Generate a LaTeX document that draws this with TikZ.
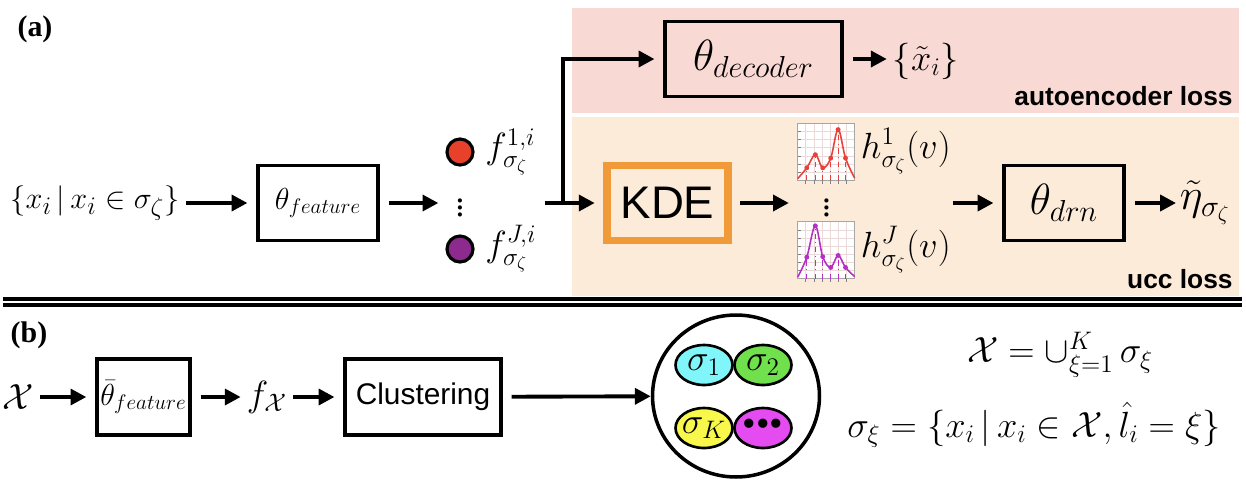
\documentclass[tikz,border=0pt]{standalone}
\usepackage{fontspec}
\setmainfont{Liberation Serif}
\setsansfont{Liberation Sans}
\usepackage{amsmath,amssymb}
\usetikzlibrary{arrows.meta,positioning,shapes.geometric}
\definecolor{pinkband}{HTML}{F9D9D4}
\definecolor{peachband}{HTML}{FCEBD9}
\definecolor{kdeorange}{HTML}{F09A3A}
\definecolor{fred}{HTML}{E8412B}
\definecolor{fpurple}{HTML}{8C2A8E}
\definecolor{kdered}{HTML}{E8413A}
\definecolor{kdepurple}{HTML}{B52FC4}
\definecolor{gridpink}{HTML}{EBD8D8}
\definecolor{cone}{HTML}{80F6FA}
\definecolor{ctwo}{HTML}{70E04C}
\definecolor{cK}{HTML}{F8F84C}
\definecolor{crest}{HTML}{E44CF2}

% small kde plot drawn inside a named node
\newcommand{\kdeicon}[4]{%
 \begin{scope}[shift={(#1.south west)},x=1.14cm,y=1.14cm]
  \fill[white] (0,0) rectangle (1,1);
  \foreach \g in {1,...,6}{\draw[gridpink,line width=.4pt] (\g/7,0)--(\g/7,1) (0,\g/7)--(1,\g/7);}
  \draw[gray!70,line width=.5pt] (0,0) rectangle (1,1);
  \foreach \g in {1,...,6}{\draw[gray,line width=.4pt] (\g/7,0)--(\g/7,-.06) (0,\g/7)--(.05,\g/7);}
  \draw[#2,line width=.9pt] plot[smooth,tension=.6] coordinates {#3};
  \foreach \px/\py in {#4}{\draw[#2,line width=.6pt,dash dot] (\px,0)--(\px,\py); \fill[#2] (\px,\py) circle (1.4pt);}
 \end{scope}}

\begin{document}
\begin{tikzpicture}[x=0.02cm,y=-0.02cm,font=\fontsize{20}{24}\selectfont,
 box/.style={draw,line width=2pt,minimum width=2.4cm,minimum height=1.5cm,outer sep=6pt},
 arr/.style={line width=2.2pt,-{Triangle[length=9pt,width=9pt]}},
 lossname/.style={font=\sffamily\bfseries\fontsize{15}{18}\selectfont,anchor=south east,inner sep=0pt},
 fdot/.style={circle,draw,line width=1.8pt,minimum size=.52cm,inner sep=0pt},
 plotbox/.style={minimum size=1.14cm,inner sep=0pt},
 cluster/.style={ellipse,draw,line width=1.5pt,minimum width=1.14cm,minimum height=.8cm,inner sep=0pt},
 big/.style={font=\fontsize{23}{27}\selectfont},
 small/.style={font=\fontsize{18}{21}\selectfont}]
\useasboundingbox (0,0) rectangle (1246,481);

% (a)
\fill[pinkband] (572,8) rectangle (1239,113);
\fill[peachband] (572,117) rectangle (1239,296);
\node[font=\bfseries\fontsize{17}{20}\selectfont] (lbla) at (35,29) {(a)};
\node[font=\fontsize{19}{22}\selectfont] (src) at (95,203) {$\{x_i\,|\,x_i\in\sigma_\zeta\}$};
\node[box,small] (feat) at (318,203) {$\theta_{feature}$};
\node[inner sep=0pt] (fdots) at (460,203) {$\vdots$};
\node[fdot,fill=fred] (dotone) at (460,152) {};
\node[fdot,fill=fpurple] (dotJ) at (460,249) {};
\node[right=5pt of dotone,inner sep=1pt] (fone) {$f^{1,i}_{\sigma_\zeta}$};
\node[right=5pt of dotJ,inner sep=1pt] (fJ) {$f^{J,i}_{\sigma_\zeta}$};
\coordinate (split) at (563,203);
\node[box,draw=kdeorange,line width=4.5pt,minimum width=2.42cm,outer sep=7pt,font=\sffamily\fontsize{26}{30}\selectfont] (kde) at (667.5,203) {KDE};
\node[box,big,minimum width=3.54cm] (dec) at (753.5,59) {$\theta_{decoder}$};
\node (xrec) at (926,61) {$\{\tilde{x}_i\}$};
\node[plotbox] (plotone) at (826.5,151.5) {};
\node[plotbox] (plotJ) at (826.5,250) {};
\kdeicon{plotone}{kdered}{(0,.03) (.16,.22) (.31,.45) (.44,.22) (.58,.39) (.71,.89) (.84,.39) (1,.04)}{.16/.22,.31/.45,.44/.22,.58/.39,.71/.89,.84/.39}
\kdeicon{plotJ}{kdepurple}{(0,.03) (.16,.38) (.31,.93) (.44,.39) (.58,.2) (.71,.41) (.84,.2) (1,.04)}{.16/.38,.31/.93,.44/.39,.58/.2,.71/.41,.84/.2}
\node[inner sep=0pt] (hdots) at (826.5,203) {$\vdots$};
\node[right=2pt of plotone,inner sep=1pt] (hone) {$h^{1}_{\sigma_\zeta}(v)$};
\node[right=2pt of plotJ,inner sep=1pt] (hJ) {$h^{J}_{\sigma_\zeta}(v)$};
\node[box,big] (drn) at (1064,203) {$\theta_{drn}$};
\node[big,anchor=west,inner sep=2pt] (eta) at (1176,203) {$\tilde{\eta}_{\sigma_\zeta}$};
\node[lossname] (aeloss) at (1233,106) {autoencoder loss};
\node[lossname] (uccloss) at (1233,289) {ucc loss};
\draw[arr] (src) -- (feat);
\draw[arr,shorten >=4pt] (feat) -- (feat -| dotone.west);
\draw[arr,shorten <=4pt] (fone.east |- kde) -- (kde);
\draw[arr] (split) |- (dec);
\draw[arr] (dec) -- (dec -| xrec.west);
\draw[arr,shorten >=5pt] (kde) -- (kde -| plotone.west);
\draw[arr] (hone.east |- drn) -- (drn);
\draw[arr] (drn) -- (drn -| eta.west);

% (b)
\draw[line width=2pt] (3,299) -- (1242,299) (3,305) -- (1242,305);
\node[font=\bfseries\fontsize{17}{20}\selectfont] (lblb) at (29,335) {(b)};
\node (X) at (18,397) {$\mathcal{X}$};
\node[box,small,minimum width=1.86cm,minimum height=1.52cm,inner sep=2pt] (featb) at (143.5,397) {$\bar{\theta}_{feature}$};
\node (fX) at (267,397) {$f_{\mathcal{X}}$};
\node[box,minimum width=3.12cm,minimum height=1.52cm,font=\sffamily\fontsize{17}{20}\selectfont] (clus) at (423,397) {Clustering};
\node[ellipse,draw,line width=2pt,minimum width=3.34cm,minimum height=3.24cm] (groups) at (736,396) {};
\node[cluster,fill=cone] (cone) at (704,365) {};
\node[cluster,fill=ctwo] (ctwo) at (763,365) {};
\node[cluster,fill=cK] (cK) at (704,428) {};
\node[cluster,fill=crest] (crest) at (763,428) {};
\node (sone) at (cone) {$\sigma_1$};
\node (stwo) at (ctwo) {$\sigma_2$};
\node (sK) at (cK) {$\sigma_K$};
\node[font=\fontsize{22}{22}\selectfont] (srest) at (crest) {\textbullet\textbullet\textbullet};
\node[font=\fontsize{21}{25}\selectfont] (union) at (1060,355) {$\mathcal{X}=\cup_{\xi=1}^{K}\,\sigma_\xi$};
\node[font=\fontsize{21}{25}\selectfont] (member) at (1034,425) {$\sigma_\xi=\{x_i\,|\,x_i\in\mathcal{X},\hat{l}_i=\xi\}$};
\draw[arr] (X) -- (featb);
\draw[arr] (featb) -- (fX);
\draw[arr] (fX) -- (clus);
\draw[arr] (clus) -- (groups);
\end{tikzpicture}
\end{document}
